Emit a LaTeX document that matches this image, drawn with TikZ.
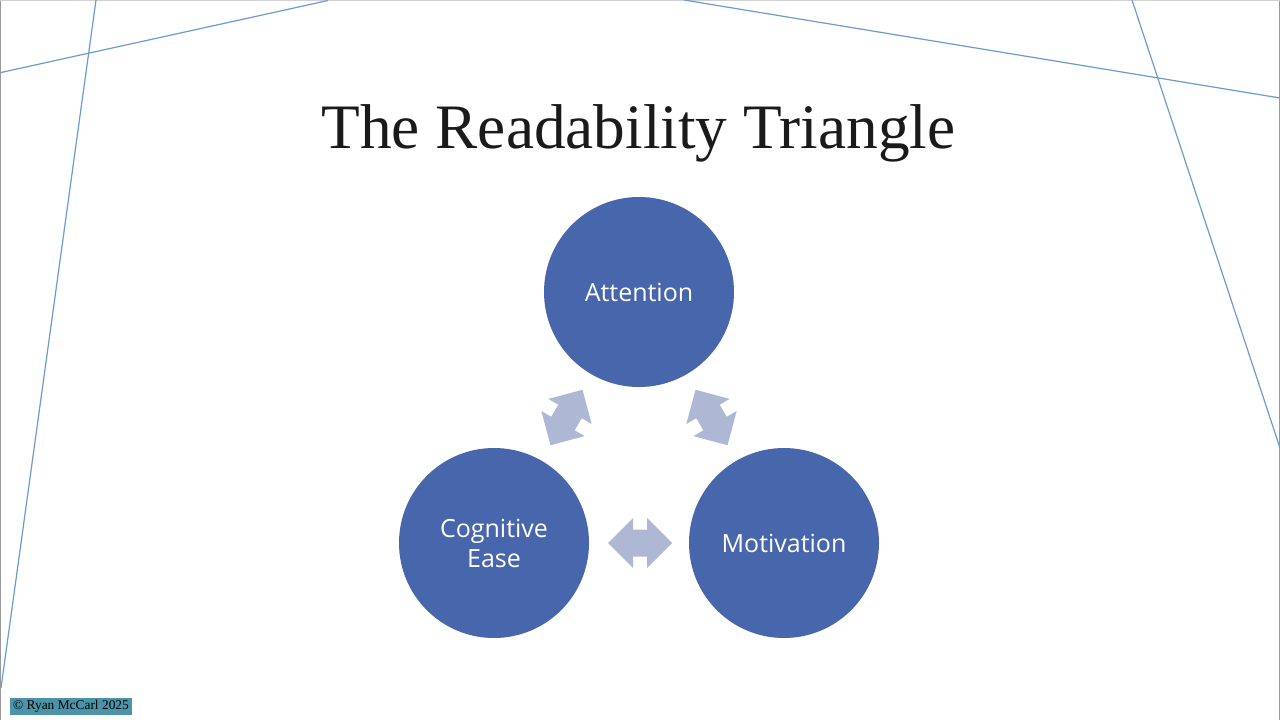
\documentclass[tikz,border=0pt]{standalone}
\usepackage{fontspec}
\setmainfont{Liberation Serif}
\newfontfamily\circfont{Open Sans}
\usetikzlibrary{calc}
\definecolor{circblue}{HTML}{4866AC}
\definecolor{arrowfill}{HTML}{AEB8D5}
\definecolor{deco}{HTML}{6C9BD2}
\definecolor{copybg}{HTML}{4A93A8}
\definecolor{titlecol}{HTML}{1A1A1A}
\tikzset{
  circ/.style={circle, fill=circblue, minimum size=190pt, inner sep=0pt, text=white,
    font=\circfont\fontsize{25}{30}\selectfont, align=center},
  decoline/.style={draw=deco, line width=1.2pt},
  dblarrow/.pic={\fill[arrowfill] (-32,0) -- (-7,25) -- (-7,13.5) -- (7,13.5) -- (7,25) -- (32,0)
     -- (7,-25) -- (7,-13.5) -- (-7,-13.5) -- (-7,-25) -- cycle;}
}
\begin{document}
\begin{tikzpicture}[x=1pt,y=-1pt]
\useasboundingbox (0,0) rectangle (1280,720);
\fill[white] (0,0) rectangle (1280,720);
% frame
\draw[gray!80, line width=1.2pt] (0.6,0) -- (0.6,720);
\draw[gray!80, line width=1.2pt] (1279.4,0) -- (1279.4,720);
\draw[gray!35, line width=1pt] (0,0.5) -- (1280,0.5);
% decorative lines
\draw[decoline] (1,72.5) -- (328,0.5);
\draw[decoline] (96,0) -- (1,688);
\draw[decoline] (684,0) -- (1280,98);
\draw[decoline] (1132,0) -- (1280,448);
% title
\node[anchor=base, inner sep=0pt, text=titlecol, font=\fontsize{63.3}{70}\selectfont] (title) at (638.5,148) {The Readability Triangle};
% circles
\node[circ] (att) at (639,292) {Attention};
\node[circ] (ce) at (494,543) {Cognitive\\Ease};
\node[circ] (mot) at (784,543) {Motivation};
% double arrows
\pic[rotate=60] at ($(ce)!0.5!(att)$) {dblarrow};
\pic[rotate=-60] at ($(att)!0.5!(mot)$) {dblarrow};
\pic at ($(ce)!0.5!(mot)+(1,0)$) {dblarrow};
% copyright
\node[fill=copybg, minimum width=122pt, minimum height=17pt, inner sep=0pt, font=\fontsize{13.4}{15}\selectfont] (copy) at (71,706) {© Ryan McCarl 2025};
\end{tikzpicture}
\end{document}
